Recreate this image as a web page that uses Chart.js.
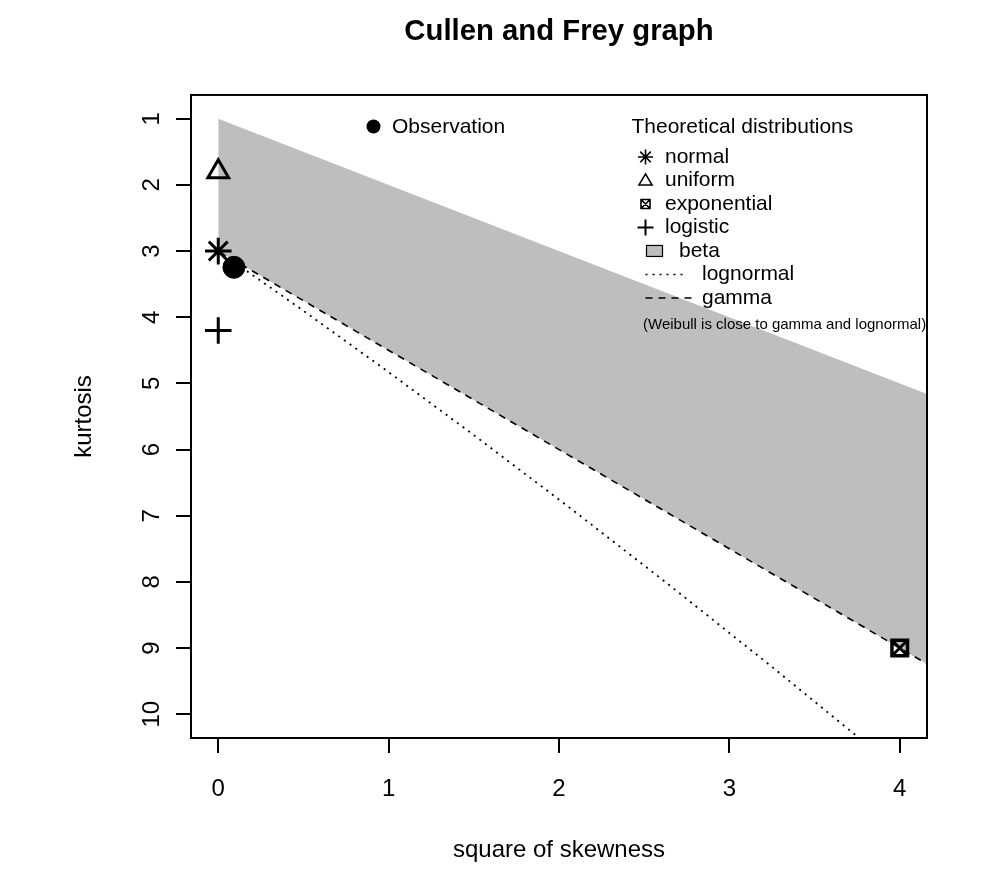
<!DOCTYPE html>
<html>
<head>
<meta charset="utf-8">
<title>Cullen and Frey graph</title>
<script src="https://cdn.jsdelivr.net/npm/chart.js@4.4.1/dist/chart.umd.min.js"></script>
<style>
  html, body { margin: 0; padding: 0; background: #fff; }
  #wrap { width: 1004px; height: 879px; }
</style>
</head>
<body>
<div id="wrap"><canvas id="cf" width="1004" height="879"></canvas></div>
<script>
// axis ranges (R adds 4% on each side) and tick labels
const xRange = [-0.16, 4.16];
const yRange = [0.64, 10.36];
const xTicks = [0, 1, 2, 3, 4];
const yTicks = [1, 2, 3, 4, 5, 6, 7, 8, 9, 10];

// beta region: upper bound and lower bound (lower bound = gamma line)
const betaSkew2 = [0, 4.2];
const betaUpper = [1, 5.2];
const betaLower = [3, 9.3];

// gamma line
const gammaSkew2 = [0, 4.2];
const gammaKurt = [3, 9.3];

// lognormal curve
const lnormSkew2 = [0, 0.465, 0.961, 1.488, 2.048, 2.641, 3.267, 3.928];
const lnormKurt = [3, 3.838, 4.756, 5.758, 6.850, 8.035, 9.320, 10.710];

// observation
const obsSkew2 = [0.092];
const obsKurt = [3.245];

// theoretical distributions (points)
const theoNames = ['normal', 'uniform', 'exponential', 'logistic'];
const theoSkew2 = [0, 0, 4, 0];
const theoKurt = [3, 1.8, 9, 4.2];

const grey = '#bebebe';
const fontFamily = '"Liberation Sans", Arial, Helvetica, sans-serif';

function pts(xs, ys) {
    return xs.map((x, i) => ({ x: x, y: ys[i] }));
}

function theoPoint(name) {
    const i = theoNames.indexOf(name);
    return [{ x: theoSkew2[i], y: theoKurt[i] }];
}

function markerSet(name, style, radius, width, order) {
    return {
        label: name,
        data: theoPoint(name),
        showLine: false,
        pointStyle: style,
        pointRadius: radius,
        pointBorderWidth: width,
        pointBorderColor: '#000',
        pointBackgroundColor: 'rgba(0,0,0,0)',
        order: order
    };
}

// R style box round the plot region
const boxPlugin = {
    id: 'rbox',
    afterDatasetsDraw(chart) {
        const { ctx, chartArea: a } = chart;
        ctx.save();
        ctx.strokeStyle = '#000';
        ctx.lineWidth = 2;
        ctx.strokeRect(a.left, a.top, a.right - a.left, a.bottom - a.top);
        ctx.restore();
    }
};

// legend drawn inside the plot like descdist()
const legendPlugin = {
    id: 'cfLegend',
    afterDraw(chart) {
        const ctx = chart.ctx;
        const a = chart.chartArea;
        ctx.save();
        ctx.fillStyle = '#000';
        ctx.strokeStyle = '#000';
        ctx.textAlign = 'left';
        ctx.textBaseline = 'middle';
        ctx.font = '21px ' + fontFamily;

        // observation
        ctx.beginPath();
        ctx.arc(a.left + 182.5, a.top + 31.5, 7, 0, Math.PI * 2);
        ctx.fill();
        ctx.fillText('Observation', a.left + 201, a.top + 32);

        // theoretical
        const lx = a.left + 440.5;
        ctx.fillText('Theoretical distributions', lx, a.top + 32);
        const sx = a.left + 454.5;
        const tx = a.left + 474;
        const row0 = a.top + 62;
        const step = 23.5;

        ctx.lineWidth = 1.6;
        // normal: asterisk
        let y = row0;
        ctx.beginPath();
        const r = 7.5;
        ctx.moveTo(sx - r, y); ctx.lineTo(sx + r, y);
        ctx.moveTo(sx, y - r); ctx.lineTo(sx, y + r);
        const d = r * Math.SQRT1_2;
        ctx.moveTo(sx - d, y - d); ctx.lineTo(sx + d, y + d);
        ctx.moveTo(sx - d, y + d); ctx.lineTo(sx + d, y - d);
        ctx.stroke();
        ctx.fillText(theoNames[0], tx, y);

        // uniform: triangle
        y = row0 + step;
        ctx.beginPath();
        ctx.moveTo(sx, y - 6.5);
        ctx.lineTo(sx + 6.5, y + 4.5);
        ctx.lineTo(sx - 6.5, y + 4.5);
        ctx.closePath();
        ctx.stroke();
        ctx.fillText(theoNames[1], tx, y);

        // exponential: square with x
        y = row0 + step * 2;
        ctx.beginPath();
        ctx.rect(sx - 4.5, y - 4.5, 9, 9);
        ctx.moveTo(sx - 4.5, y - 4.5); ctx.lineTo(sx + 4.5, y + 4.5);
        ctx.moveTo(sx - 4.5, y + 4.5); ctx.lineTo(sx + 4.5, y - 4.5);
        ctx.stroke();
        ctx.fillText(theoNames[2], tx, y);

        // logistic: plus
        y = row0 + step * 3;
        ctx.lineWidth = 2;
        ctx.beginPath();
        ctx.moveTo(sx - 8, y); ctx.lineTo(sx + 8, y);
        ctx.moveTo(sx, y - 8); ctx.lineTo(sx, y + 8);
        ctx.stroke();
        ctx.fillText(theoNames[3], tx, y);

        // beta: grey box
        y = row0 + step * 4;
        ctx.lineWidth = 1.2;
        ctx.fillStyle = grey;
        ctx.fillRect(sx + 1, y - 5.5, 16, 11);
        ctx.strokeRect(sx + 1, y - 5.5, 16, 11);
        ctx.fillStyle = '#000';
        ctx.fillText('beta', a.left + 488, y);

        // lognormal: dotted
        y = row0 + step * 5;
        ctx.lineWidth = 1.6;
        ctx.setLineDash([2, 5]);
        ctx.beginPath();
        ctx.moveTo(sx, y); ctx.lineTo(sx + 38, y);
        ctx.stroke();
        ctx.fillText('lognormal', a.left + 511, y);

        // gamma: dashed
        y = row0 + step * 6;
        ctx.setLineDash([7, 6]);
        ctx.beginPath();
        ctx.moveTo(sx, y); ctx.lineTo(sx + 46, y);
        ctx.stroke();
        ctx.setLineDash([]);
        ctx.fillText('gamma', a.left + 511, y);

        ctx.font = '15px ' + fontFamily;
        ctx.fillText('(Weibull is close to gamma and lognormal)', a.left + 452, a.top + 230);
        ctx.restore();
    }
};

const ctx = document.getElementById('cf').getContext('2d');
Chart.defaults.font.family = fontFamily;
Chart.defaults.color = '#000';

new Chart(ctx, {
    type: 'line',
    data: {
        datasets: [
            {
                label: 'beta',
                data: pts(betaSkew2, betaUpper),
                showLine: true,
                borderWidth: 0,
                borderColor: grey,
                pointRadius: 0,
                fill: 1,
                backgroundColor: grey,
                order: 10
            },
            {
                label: 'beta lower',
                data: pts(betaSkew2, betaLower),
                showLine: true,
                borderWidth: 0,
                borderColor: grey,
                pointRadius: 0,
                fill: false,
                order: 9
            },
            {
                label: 'gamma',
                data: pts(gammaSkew2, gammaKurt),
                showLine: true,
                borderColor: '#000',
                borderWidth: 1.6,
                borderDash: [7, 6],
                pointRadius: 0,
                fill: false,
                order: 5
            },
            {
                label: 'lognormal',
                data: pts(lnormSkew2, lnormKurt),
                showLine: true,
                borderColor: '#000',
                borderWidth: 1.8,
                borderDash: [2, 5],
                pointRadius: 0,
                fill: false,
                order: 5
            },
            markerSet('exponential', 'rect', 11, 3.5, 1),
            markerSet('exponential', 'crossRot', 11, 3, 1),
            markerSet('normal', 'star', 13.3, 3, 1),
            markerSet('uniform', 'triangle', 12, 3, 1),
            markerSet('logistic', 'cross', 13.3, 3, 1),
            {
                label: 'Observation',
                data: pts(obsSkew2, obsKurt),
                showLine: false,
                pointStyle: 'circle',
                pointRadius: 11,
                pointBorderWidth: 1,
                pointBorderColor: '#000',
                pointBackgroundColor: '#000',
                order: 0
            }
        ]
    },
    options: {
        responsive: false,
        animation: false,
        devicePixelRatio: 1,
        layout: { padding: { left: 0, right: 77, top: 0, bottom: 0 } },
        elements: { line: { tension: 0 } },
        plugins: {
            legend: { display: false },
            tooltip: { enabled: false },
            title: {
                display: true,
                text: 'Cullen and Frey graph',
                fullSize: false,
                color: '#000',
                font: { size: 29.3, weight: 'bold' },
                padding: { top: 14.5, bottom: 45.3 }
            }
        },
        scales: {
            x: {
                type: 'linear',
                min: xRange[0],
                max: xRange[1],
                afterBuildTicks: s => { s.ticks = xTicks.map(v => ({ value: v })); },
                afterFit: s => { s.height = 141; },
                border: { display: false },
                grid: {
                    display: true,
                    drawOnChartArea: false,
                    drawTicks: true,
                    tickLength: 15,
                    color: '#000',
                    lineWidth: 2
                },
                ticks: {
                    color: '#000',
                    font: { size: 24 },
                    padding: 22,
                    maxRotation: 0,
                    callback: v => String(v)
                },
                title: {
                    display: true,
                    text: 'square of skewness',
                    color: '#000',
                    font: { size: 24 },
                    padding: { top: 0, bottom: 14.6 }
                }
            },
            y: {
                type: 'linear',
                reverse: true,
                min: yRange[0],
                max: yRange[1],
                afterBuildTicks: s => { s.ticks = yTicks.map(v => ({ value: v })); },
                afterFit: s => { s.width = 191; },
                border: { display: false },
                grid: {
                    display: true,
                    drawOnChartArea: false,
                    drawTicks: true,
                    tickLength: 15,
                    color: '#000',
                    lineWidth: 2
                },
                ticks: {
                    color: '#000',
                    font: { size: 24 },
                    padding: 10,
                    minRotation: 90,
                    maxRotation: 90,
                    crossAlign: 'center',
                    callback: v => String(v)
                },
                title: {
                    display: true,
                    text: 'kurtosis',
                    color: '#000',
                    font: { size: 24 },
                    padding: { top: 69.5, bottom: 0 }
                }
            }
        }
    },
    plugins: [boxPlugin, legendPlugin]
});
</script>
</body>
</html>
